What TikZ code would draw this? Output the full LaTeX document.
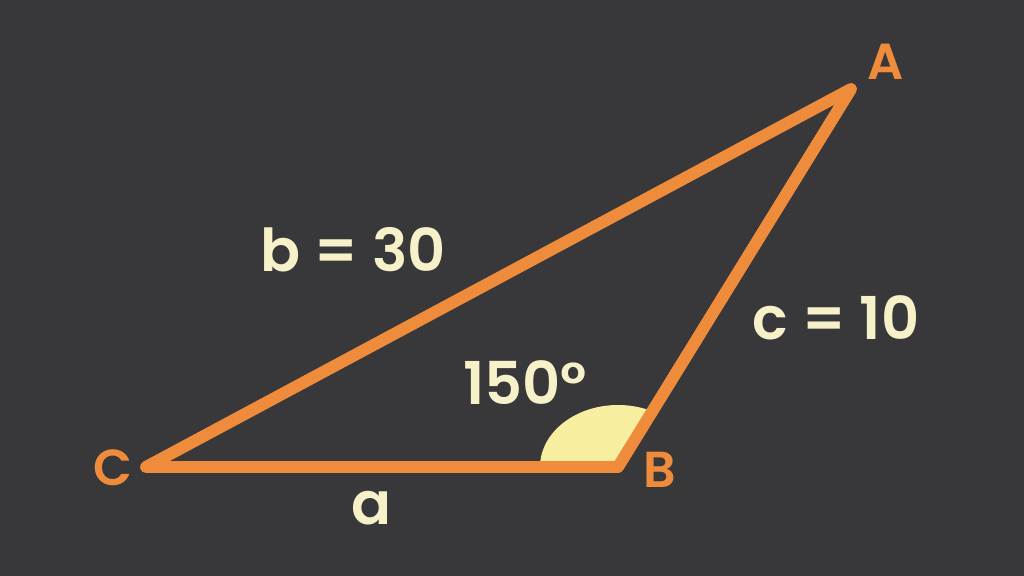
\documentclass[tikz,border=0pt]{standalone}
\usepackage{fontspec}
\setmainfont{Poppins}[BoldFont={Poppins SemiBold}]
\definecolor{board}{HTML}{38383A}
\definecolor{tri}{HTML}{EE8C3B}
\definecolor{chalk}{HTML}{F6F1C9}
\definecolor{wedge}{HTML}{F7EE9F}
\tikzset{
  side/.style={draw=tri, line width=8.5pt, line join=round},
  vlabel/.style={text=tri, font=\fontsize{36}{36}\selectfont\bfseries, inner sep=0pt},
  mlabel/.style={text=chalk, font=\fontsize{42}{42}\selectfont\bfseries, inner sep=0pt},
}
\begin{document}
\begin{tikzpicture}[x=0.025cm, y=-0.025cm]
\useasboundingbox (0,0) rectangle (1024,576);
\fill[board] (0,0) rectangle (1024,576);
\coordinate (C) at (146,467);
\coordinate (B) at (618,467);
\coordinate (A) at (851,89);
\begin{scope}
  \clip (C) -- (B) -- (A) -- cycle;
  \fill[wedge] (B) ellipse [x radius=78, y radius=62];
\end{scope}
\draw[side] (C) -- (B) -- (A) -- cycle;
\node[vlabel] (lA) at (886,62) {A};
\node[vlabel] (lB) at (660,470) {B};
\node[vlabel] (lC) at (113,468) {C};
\node[mlabel] (lb) at (353,250) {b = 30};
\node[mlabel] (lc) at (836,318) {c = 10};
\node[mlabel] (lang) at (525,383) {150°};
\node[mlabel] (la) at (372,508) {a};
\end{tikzpicture}
\end{document}
